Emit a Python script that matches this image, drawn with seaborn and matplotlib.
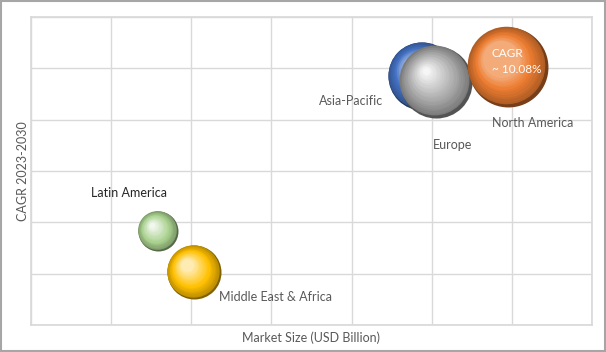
import numpy as np
import pandas as pd
import seaborn as sns
import matplotlib
import matplotlib.pyplot as plt
from matplotlib.colors import to_rgb
from matplotlib.transforms import offset_copy

matplotlib.use("Agg")

# data (axes have no numeric labels)
regions = ["Asia-Pacific", "Europe", "North America", "Latin America", "Middle East & Africa"]
market_size = [4.88, 5.05, 5.95, 1.58, 2.03]
cagr = [4.85, 4.74, 5.03, 1.83, 1.03]
bubble_size = [1160, 1300, 1600, 400, 730]
colors = ["#4472C4", "#A5A5A5", "#ED7D31", "#A9D18E", "#FFC000"]
gloss = [0.55, 0.9, 0.35, 0.85, 0.7]

label_x = [4.40, 5.01, 5.75, 0.75, 2.34]
label_y = [4.37, 3.51, 3.94, 2.57, 0.55]
label_ha = ["right", "left", "left", "left", "left"]
label_color = ["#595959", "#595959", "#595959", "#262626", "#595959"]

df = pd.DataFrame({"region": regions, "x": market_size, "y": cagr, "size": bubble_size})

sns.set_theme(style="white")
plt.rcParams["font.family"] = ["Lato", "DejaVu Sans"]

fig = plt.figure(figsize=(6.06, 3.52), dpi=100)
ax = fig.add_axes([31 / 606, 27 / 352, 561 / 606, 308 / 352])

area_per_unit = 2.07
areas = [v * area_per_unit for v in bubble_size]

# base bubbles through seaborn, shading layers on top
for i, row in df.iterrows():
    base = np.array(to_rgb(colors[i]))
    z = 3 + i * 30
    sub = df.iloc[[i]]
    sns.scatterplot(data=sub, x="x", y="y", size="size",
                    sizes=(areas[i], areas[i]), color=tuple(base * 0.5),
                    linewidth=0, legend=False, ax=ax, zorder=z)
    r_pt = np.sqrt(areas[i]) / 2
    n = 20
    for k in range(n):
        f = 0.97 - k * 0.92 / n
        t = 1 - f
        if t < 0.3:
            col = base * (0.72 + 0.28 * t / 0.3)
        else:
            col = base + (1 - base) * min(gloss[i], (t - 0.3) * 1.5)
        col = np.clip(col, 0, 1)
        dx = -0.28 * r_pt * t - 0.03 * r_pt
        dy = 0.3 * r_pt * t + 0.03 * r_pt
        tr = offset_copy(ax.transData, fig=fig, x=dx, y=dy, units="points")
        ax.scatter([row["x"]], [row["y"]], s=areas[i] * f * f, color=tuple(col),
                   linewidths=0, transform=tr, zorder=z + 1 + k)

for i, name in enumerate(regions):
    ax.text(label_x[i], label_y[i], name, ha=label_ha[i], va="center",
            fontsize=9, color=label_color[i], zorder=300)

ax.text(5.75, 5.13, "CAGR\n~ 10.08%", ha="left", va="center", fontsize=8.5,
        color="white", linespacing=1.5, zorder=300)

ax.set_xlim(0, 7)
ax.set_ylim(0, 6)
ax.set_xticks(range(8))
ax.set_yticks(range(7))
ax.set_xticklabels([])
ax.set_yticklabels([])
ax.tick_params(length=0)
ax.grid(True, color="#d9d9d9", linewidth=1)
for s in ax.spines.values():
    s.set_color("#d9d9d9")
ax.set_xlabel("Market Size (USD Billion)", fontsize=9, color="#595959", labelpad=1.5)
ax.set_ylabel("CAGR 2023-2030", fontsize=9, color="#595959", labelpad=-2)

# outer frame around the picture
fig.patches.append(plt.Rectangle((0.001, 0.002), 0.997, 0.995, transform=fig.transFigure,
                                 fill=False, edgecolor="#a6a6a6", linewidth=1.5))

fig.savefig("out.png", dpi=100)
